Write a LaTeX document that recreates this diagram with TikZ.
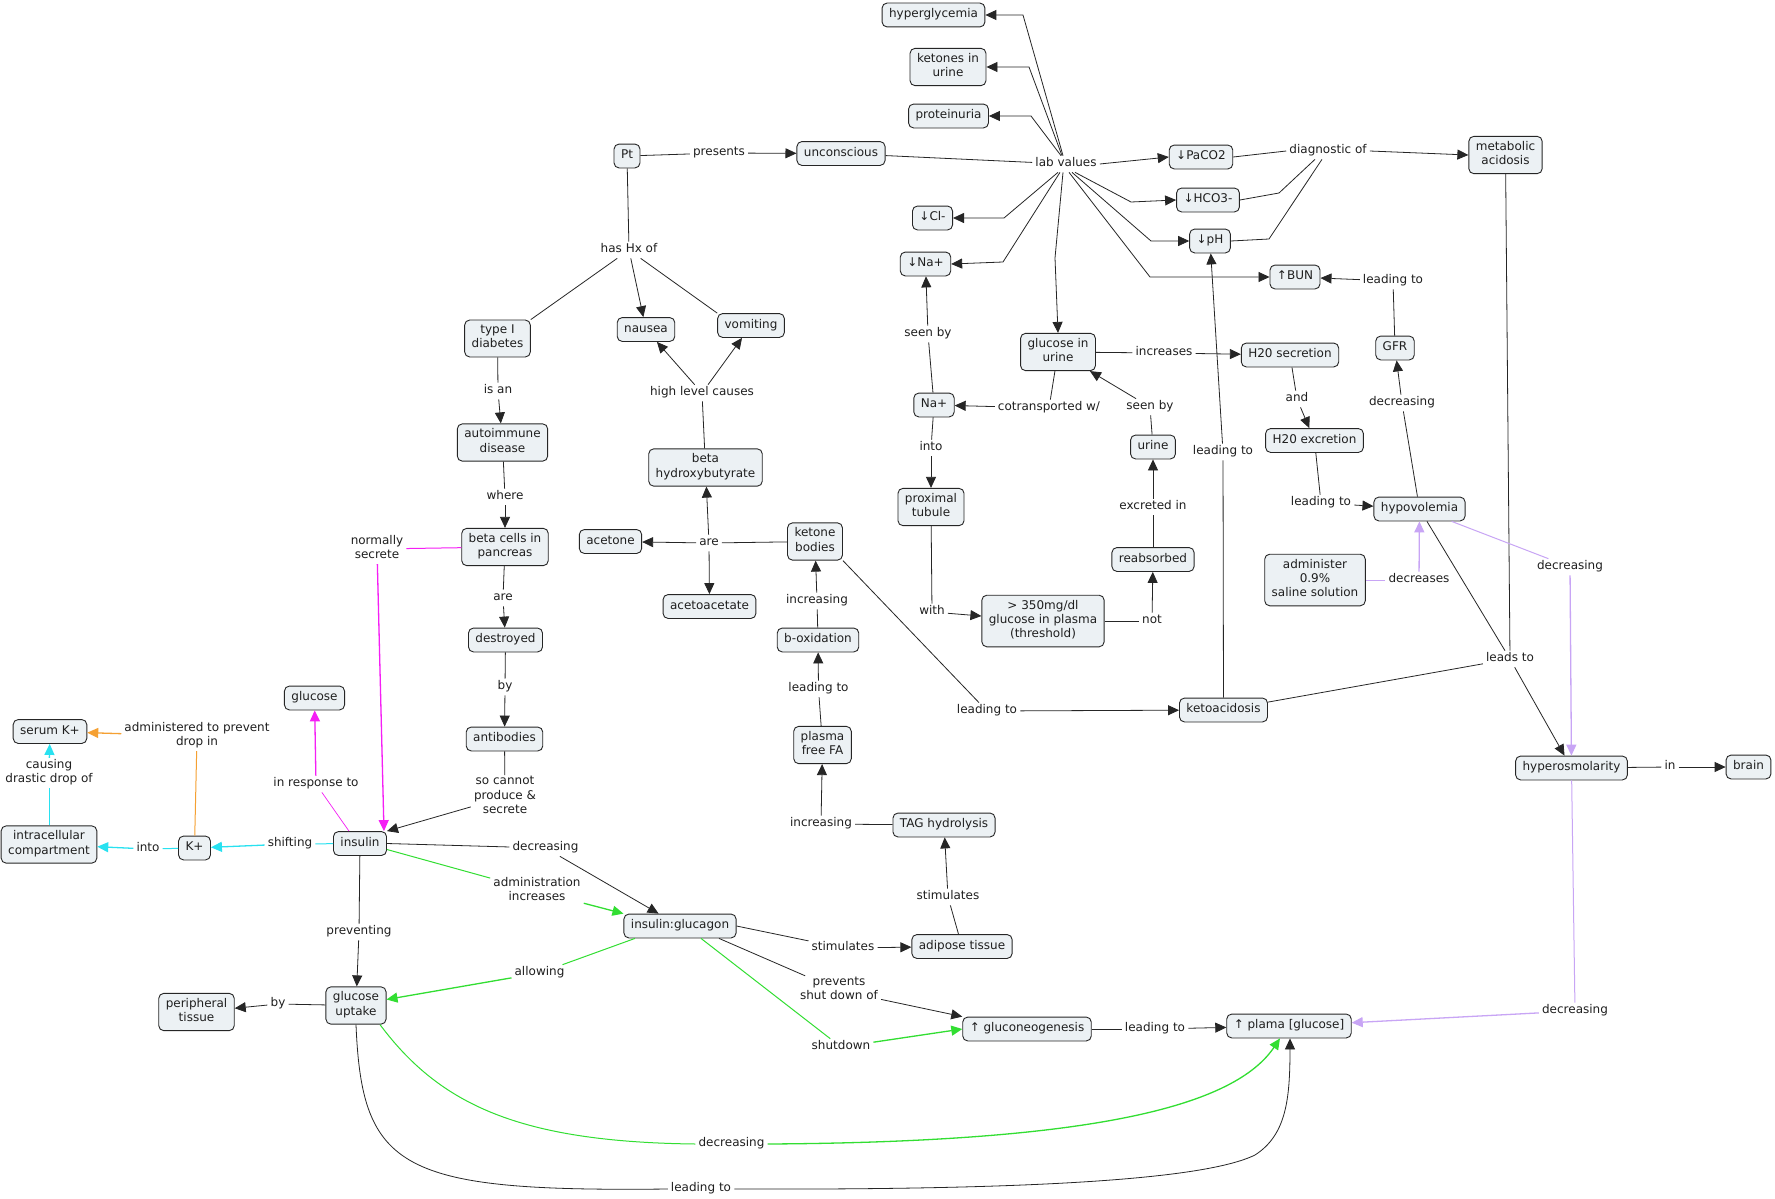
\documentclass[tikz,border=0pt]{standalone}
\usepackage{fontspec}
\setmainfont{DejaVu Sans}
\usetikzlibrary{arrows.meta}
\definecolor{cfill}{RGB}{236,241,244}
\definecolor{cmag}{RGB}{245,30,245}
\definecolor{ccyan}{RGB}{40,225,240}
\definecolor{corange}{RGB}{245,160,50}
\definecolor{cgreen}{RGB}{50,222,50}
\definecolor{clav}{RGB}{200,165,245}
\newcommand\brk{\\\strut}
\begin{document}
\begin{tikzpicture}[x=1pt,y=-1pt,
  every node/.style={font=\fontsize{12}{14.3}\selectfont, text=black!88},
  cpt/.style={draw=black!85, line width=0.9pt, rounded corners=5pt, fill=cfill, inner xsep=7pt, inner ysep=4.8pt, align=center, execute at begin node=\strut},
  lbl/.style={inner xsep=3pt, inner ysep=1pt, align=center, execute at begin node=\strut},
  ln/.style={line width=0.8pt, draw=black!85},
  tip/.style={-{Triangle[length=11pt,width=10pt]}},
  arr/.style={ln, tip},
  magl/.style={line width=1pt, draw=cmag},
  maga/.style={line width=1.3pt, draw=cmag, tip, fill=cmag},
  cyl/.style={line width=1pt, draw=ccyan},
  cya/.style={line width=1.3pt, draw=ccyan, tip},
  orl/.style={line width=1pt, draw=corange},
  ora/.style={line width=1.3pt, draw=corange, tip},
  grl/.style={line width=1pt, draw=cgreen},
  gra/.style={line width=1.3pt, draw=cgreen, tip},
  lavl/.style={line width=1pt, draw=clav},
  lava/.style={line width=1.3pt, draw=clav, tip}
]
\useasboundingbox (0,0) rectangle (1775,1199);
\fill[white] (0,0) rectangle (1775,1199);

% ---------- concepts ----------
\node[cpt] (hyper) at (933.5,15) {hyperglycemia};
\node[cpt] (keturine) at (948,67) {ketones in\brk urine};
\node[cpt] (protein) at (948.5,116) {proteinuria};
\node[cpt] (pt) at (627,156) {Pt};
\node[cpt] (uncon) at (841,153.5) {unconscious};
\node[cpt] (paco2) at (1201,157) {↓PaCO2};
\node[cpt] (metacid) at (1505.5,155) {metabolic\brk acidosis};
\node[cpt] (hco3) at (1208,200) {↓HCO3-};
\node[cpt] (cl) at (932.5,218) {↓Cl-};
\node[cpt] (ph) at (1210,241) {↓pH};
\node[cpt] (na) at (925.5,264) {↓Na+};
\node[cpt] (bun) at (1295,277) {↑BUN};
\node[cpt] (type1) at (497.5,338.5) {type I\brk diabetes};
\node[cpt] (nausea) at (646,329.5) {nausea};
\node[cpt] (vomit) at (751,325.5) {vomiting};
\node[cpt] (gluurine) at (1058,352) {glucose in\brk urine};
\node[cpt] (h2osec) at (1290,355) {H20 secretion};
\node[cpt] (gfr) at (1395,348) {GFR};
\node[cpt] (naplus) at (934,405) {Na+};
\node[cpt] (urine) at (1153,447) {urine};
\node[cpt] (h2oexc) at (1314.5,440.5) {H20 excretion};
\node[cpt] (autoimm) at (502.5,442.5) {autoimmune\brk disease};
\node[cpt] (bhb) at (705.5,467.5) {beta\brk hydroxybutyrate};
\node[cpt] (prox) at (931,507) {proximal\brk tubule};
\node[cpt] (hypovol) at (1419.5,509) {hypovolemia};
\node[cpt] (betacells) at (505,547) {beta cells in\brk pancreas};
\node[cpt] (acetone) at (610.5,541.5) {acetone};
\node[cpt] (ketone) at (815,541.5) {ketone\brk bodies};
\node[cpt] (reabs) at (1153,559.5) {reabsorbed};
\node[cpt] (saline) at (1315,580) {administer\brk 0.9\%\brk saline solution};
\node[cpt] (acetoac) at (709.5,606.5) {acetoacetate};
\node[cpt] (thresh) at (1043,621) {> 350mg/dl\brk glucose in plasma\brk (threshold)};
\node[cpt] (boxid) at (818,640) {b-oxidation};
\node[cpt] (destroyed) at (505.5,640) {destroyed};
\node[cpt] (glucose) at (314.5,698) {glucose};
\node[cpt] (ketoacid) at (1223.5,710) {ketoacidosis};
\node[cpt] (serumk) at (50,731.5) {serum K+};
\node[cpt] (antibodies) at (504.5,739) {antibodies};
\node[cpt] (plasmaFA) at (822.5,745) {plasma\brk free FA};
\node[cpt] (hyperosm) at (1571.5,768) {hyperosmolarity};
\node[cpt] (brain) at (1748.5,767) {brain};
\node[cpt] (TAG) at (944,825) {TAG hydrolysis};
\node[cpt] (intracell) at (49,844.5) {intracellular\brk compartment};
\node[cpt] (kplus) at (194.5,848) {K+};
\node[cpt] (insulin) at (360,843.5) {insulin};
\node[cpt] (insglu) at (680,926) {insulin:glucagon};
\node[cpt] (adipose) at (962,946.5) {adipose tissue};
\node[cpt] (gluuptake) at (356,1005.5) {glucose\brk uptake};
\node[cpt] (periph) at (196.5,1012) {peripheral\brk tissue};
\node[cpt] (glucneo) at (1027,1029) {↑ gluconeogenesis};
\node[cpt] (plama) at (1289,1026) {↑ plama [glucose]};

% ---------- linking phrases ----------
\node[lbl] (Lpresents) at (719,153) {presents};
\node[lbl] (Llab) at (1066,164) {lab values};
\node[lbl] (LhasHx) at (629,250) {has Hx of};
\node[lbl] (Ldiag) at (1328,151) {diagnostic of};
\node[lbl] (LleadBUN) at (1393,281) {leading to};
\node[lbl] (Lisan) at (498,391) {is an};
\node[lbl] (Lhigh) at (702,393) {high level causes};
\node[lbl] (Lwhere) at (505,497) {where};
\node[lbl] (LareK) at (709,543) {are};
\node[lbl] (LareB) at (503,598) {are};
\node[lbl] (LincKet) at (817,601) {increasing};
\node[lbl] (Lnormsec) at (377,549) {normally\brk secrete};
\node[lbl] (Lby1) at (505,687) {by};
\node[lbl] (Lsocannot) at (505,797) {so cannot\brk produce \&\brk secrete};
\node[lbl] (Linresp) at (316,784) {in response to};
\node[lbl] (Ladmprev) at (197,736) {administered to prevent\brk drop in};
\node[lbl] (Lcausing) at (49,773) {causing\brk drastic drop of};
\node[lbl] (Linto1) at (148,849) {into};
\node[lbl] (Lshifting) at (290,844) {shifting};
\node[lbl] (Lpreventing) at (359,932) {preventing};
\node[lbl] (Lby2) at (278,1004) {by};
\node[lbl] (LdecIG) at (545.5,848) {decreasing};
\node[lbl] (Ladminc) at (537,891) {administration\brk increases};
\node[lbl] (Lallowing) at (539.5,973) {allowing};
\node[lbl] (Lstim1) at (843,948) {stimulates};
\node[lbl] (Lprevshut) at (839,990.5) {prevents\brk shut down of};
\node[lbl] (Lshutdown) at (841,1047) {shutdown};
\node[lbl] (LdecGreen) at (731.5,1144) {decreasing};
\node[lbl] (LleadBlack) at (701,1189) {leading to};
\node[lbl] (LincTAG) at (821,824) {increasing};
\node[lbl] (LleadFA) at (818.5,689) {leading to};
\node[lbl] (LleadKeto) at (987,711) {leading to};
\node[lbl] (Lstim2) at (948,897) {stimulates};
\node[lbl] (LleadNeo) at (1155,1029) {leading to};
\node[lbl] (LseenNa) at (928,334) {seen by};
\node[lbl] (Lcotrans) at (1049,408) {cotransported w/};
\node[lbl] (LseenU) at (1150,407) {seen by};
\node[lbl] (Lincreases) at (1164,353) {increases};
\node[lbl] (Linto2) at (931,448) {into};
\node[lbl] (Lexcreted) at (1153,507) {excreted in};
\node[lbl] (Lwith) at (932,612) {with};
\node[lbl] (Lnot) at (1152,621) {not};
\node[lbl] (LleadpH) at (1223,452) {leading to};
\node[lbl] (Land) at (1297,399) {and};
\node[lbl] (LdecGFR) at (1402,403) {decreasing};
\node[lbl] (LleadHypo) at (1321,503) {leading to};
\node[lbl] (Ldecreases) at (1419,580) {decreases};
\node[lbl] (LdecLav) at (1570,567) {decreasing};
\node[lbl] (Lleadsto) at (1510,659) {leads to};
\node[lbl] (Lin) at (1670,767) {in};
\node[lbl] (LdecLav2) at (1575,1011) {decreasing};

% ---------- bend points ----------
\coordinate (bh) at (1023,15);
\coordinate (bk) at (1029,67);
\coordinate (bp) at (1031,116);
\coordinate (bc) at (1004,218);
\coordinate (bn) at (1003,262);
\coordinate (bhc) at (1131,202);
\coordinate (bph) at (1151,241);
\coordinate (bb) at (1150,277);
\coordinate (bg) at (1055,258);
\coordinate (dh) at (1279,193);
\coordinate (dp) at (1269,239);
\coordinate (cb) at (1255,1155);

% ---------- connectors ----------
\draw[ln] (pt) -- (Lpresents);
\draw[arr] (Lpresents) -- (uncon);
\draw[ln] (pt) -- (LhasHx);
\draw[ln] (LhasHx) -- (type1.north east);
\draw[arr] (LhasHx) -- (nausea);
\draw[ln] (LhasHx) -- (vomit.north west);

\draw[ln] (uncon) -- (Llab);
\draw[arr] ([xshift=-3pt]Llab.north) -- (bh) -- (hyper.east);
\draw[arr] ([xshift=-4pt]Llab.north) -- (bk) -- (keturine.east);
\draw[arr] ([xshift=-5pt]Llab.north) -- (bp) -- (protein.east);
\draw[arr] ([xshift=-8pt]Llab.south) -- (bc) -- (cl.east);
\draw[arr] ([xshift=-6pt]Llab.south) -- (bn) -- (na.east);
\draw[arr] (Llab.east) -- (paco2.west);
\draw[arr] ([xshift=9pt]Llab.south) -- (bhc) -- (hco3.west);
\draw[arr] ([xshift=6pt]Llab.south) -- (bph) -- (ph.west);
\draw[arr] ([xshift=3pt]Llab.south) -- (bb) -- (bun.west);
\draw[arr] ([xshift=-3pt]Llab.south) -- (bg) -- (gluurine.north);

\draw[ln] (paco2.east) -- (Ldiag.west);
\draw[ln] (hco3.east) -- (dh) -- ([xshift=-13pt]Ldiag.south);
\draw[ln] (ph.east) -- (dp) -- ([xshift=-6pt]Ldiag.south);
\draw[arr] (Ldiag.east) -- (metacid.west);

\draw[ln] (type1) -- (Lisan);
\draw[arr] (Lisan) -- (autoimm);
\draw[ln] (autoimm) -- (Lwhere);
\draw[arr] (Lwhere) -- (betacells);
\draw[ln] (betacells) -- (LareB);
\draw[arr] (LareB) -- (destroyed);
\draw[ln] (destroyed) -- (Lby1);
\draw[arr] (Lby1) -- (antibodies);
\draw[ln] (antibodies) -- (Lsocannot);
\draw[arr] (Lsocannot) -- (insulin.north east);

\draw[magl] (betacells) -- (Lnormsec);
\draw[maga] (Lnormsec) -- ([xshift=-3pt]insulin.north east);
\draw[magl, line width=0.7pt] ([xshift=-11pt]insulin.north) -- (Linresp);
\draw[maga] (Linresp) -- (glucose);

\draw[cyl] (insulin) -- (Lshifting);
\draw[cya] (Lshifting) -- (kplus);
\draw[cyl] (kplus) -- (Linto1);
\draw[cya] (Linto1) -- (intracell);
\draw[cyl] (intracell) -- (Lcausing);
\draw[cya] (Lcausing) -- (serumk);
\draw[orl] (kplus) -- (Ladmprev);
\draw[ora] (Ladmprev) -- (serumk);

\draw[ln] (insulin) -- (Lpreventing);
\draw[arr] (Lpreventing) -- (gluuptake);
\draw[ln] (gluuptake) -- (Lby2);
\draw[arr] (Lby2) -- (periph);
\draw[ln] (insulin.east) -- (LdecIG);
\draw[arr] (LdecIG) -- (insglu);
\draw[grl] ([yshift=-6pt]insulin.east) -- (Ladminc);
\draw[gra] (Ladminc) -- (insglu.north west);

\draw[grl] ([xshift=-45pt]insglu.south) -- (Lallowing);
\draw[gra] (Lallowing) -- ([yshift=6pt]gluuptake.east);
\draw[ln] (insglu.east) -- (Lstim1);
\draw[arr] (Lstim1) -- (adipose);
\draw[ln] ([xshift=39pt]insglu.south) -- (Lprevshut);
\draw[arr] (Lprevshut) -- (glucneo.north west);
\draw[grl] ([xshift=21pt]insglu.south) -- (Lshutdown);
\draw[gra] (Lshutdown) -- (glucneo.west);

\draw[ln] (adipose) -- (Lstim2);
\draw[arr] (Lstim2) -- (TAG);
\draw[ln] (TAG) -- (LincTAG);
\draw[arr] (LincTAG) -- (plasmaFA);
\draw[ln] (plasmaFA) -- (LleadFA);
\draw[arr] (LleadFA) -- (boxid);
\draw[ln] (boxid) -- (LincKet);
\draw[arr] (LincKet) -- (ketone);

\draw[ln] (ketone) -- (LareK);
\draw[arr] (LareK) -- (acetone);
\draw[arr] (LareK) -- (bhb);
\draw[arr] (LareK) -- (acetoac);
\draw[ln] (bhb) -- (Lhigh);
\draw[arr] (Lhigh) -- (nausea);
\draw[arr] (Lhigh) -- (vomit);
\draw[ln] (ketone.south east) -- (LleadKeto);
\draw[arr] (LleadKeto) -- (ketoacid);

\draw[ln] (ketoacid) -- (LleadpH);
\draw[arr] (LleadpH) -- (ph);
\draw[ln] (ketoacid) -- (Lleadsto);
\draw[ln] (metacid) -- (Lleadsto);
\draw[ln] (hypovol) -- (Lleadsto);
\draw[arr] (Lleadsto) -- (hyperosm);
\draw[lavl] (hypovol) -- (LdecLav);
\draw[lava] (LdecLav) -- (hyperosm);
\draw[lavl] (saline) -- (Ldecreases);
\draw[lava] (Ldecreases) -- (hypovol);
\draw[ln] (hyperosm) -- (Lin);
\draw[arr] (Lin) -- (brain);
\draw[lavl] (hyperosm) -- (LdecLav2);
\draw[lava] (LdecLav2) -- (plama);
\draw[ln] (glucneo) -- (LleadNeo);
\draw[arr] (LleadNeo) -- (plama);

\draw[grl] ([xshift=24pt]gluuptake.south) .. controls (440,1105) and (520,1142) .. (LdecGreen.west);
\draw[gra] (LdecGreen.east) .. controls (1100,1142) and (1235,1105) .. ([xshift=-9pt]plama.south);
\draw[ln] (gluuptake.south) .. controls (362,1170) and (400,1192) .. (LleadBlack.west);
\draw[arr] (LleadBlack.east) .. controls (1000,1190) and (1200,1182) .. (cb) .. controls (1286,1135) and (1290,1100) .. ([xshift=1pt]plama.south);

\draw[ln] (gluurine) -- (Lcotrans);
\draw[arr] (Lcotrans) -- (naplus);
\draw[ln] (naplus) -- (LseenNa);
\draw[arr] (LseenNa) -- (na);
\draw[ln] (naplus) -- (Linto2);
\draw[arr] (Linto2) -- (prox);
\draw[ln] (prox) -- (Lwith);
\draw[arr] (Lwith) -- (thresh);
\draw[ln] (thresh) -- (Lnot);
\draw[arr] (Lnot) -- (reabs);
\draw[ln] (reabs) -- (Lexcreted);
\draw[arr] (Lexcreted) -- (urine);
\draw[ln] (urine) -- (LseenU);
\draw[arr] (LseenU) -- (gluurine);
\draw[ln] (gluurine) -- (Lincreases);
\draw[arr] (Lincreases) -- (h2osec);
\draw[ln] (h2osec) -- (Land);
\draw[arr] (Land) -- (h2oexc);
\draw[ln] (h2oexc) -- (LleadHypo);
\draw[arr] (LleadHypo) -- (hypovol);
\draw[ln] (hypovol) -- (LdecGFR);
\draw[arr] (LdecGFR) -- (gfr);
\draw[ln] (gfr) -- (LleadBUN);
\draw[arr] (LleadBUN) -- (bun);
\end{tikzpicture}
\end{document}
